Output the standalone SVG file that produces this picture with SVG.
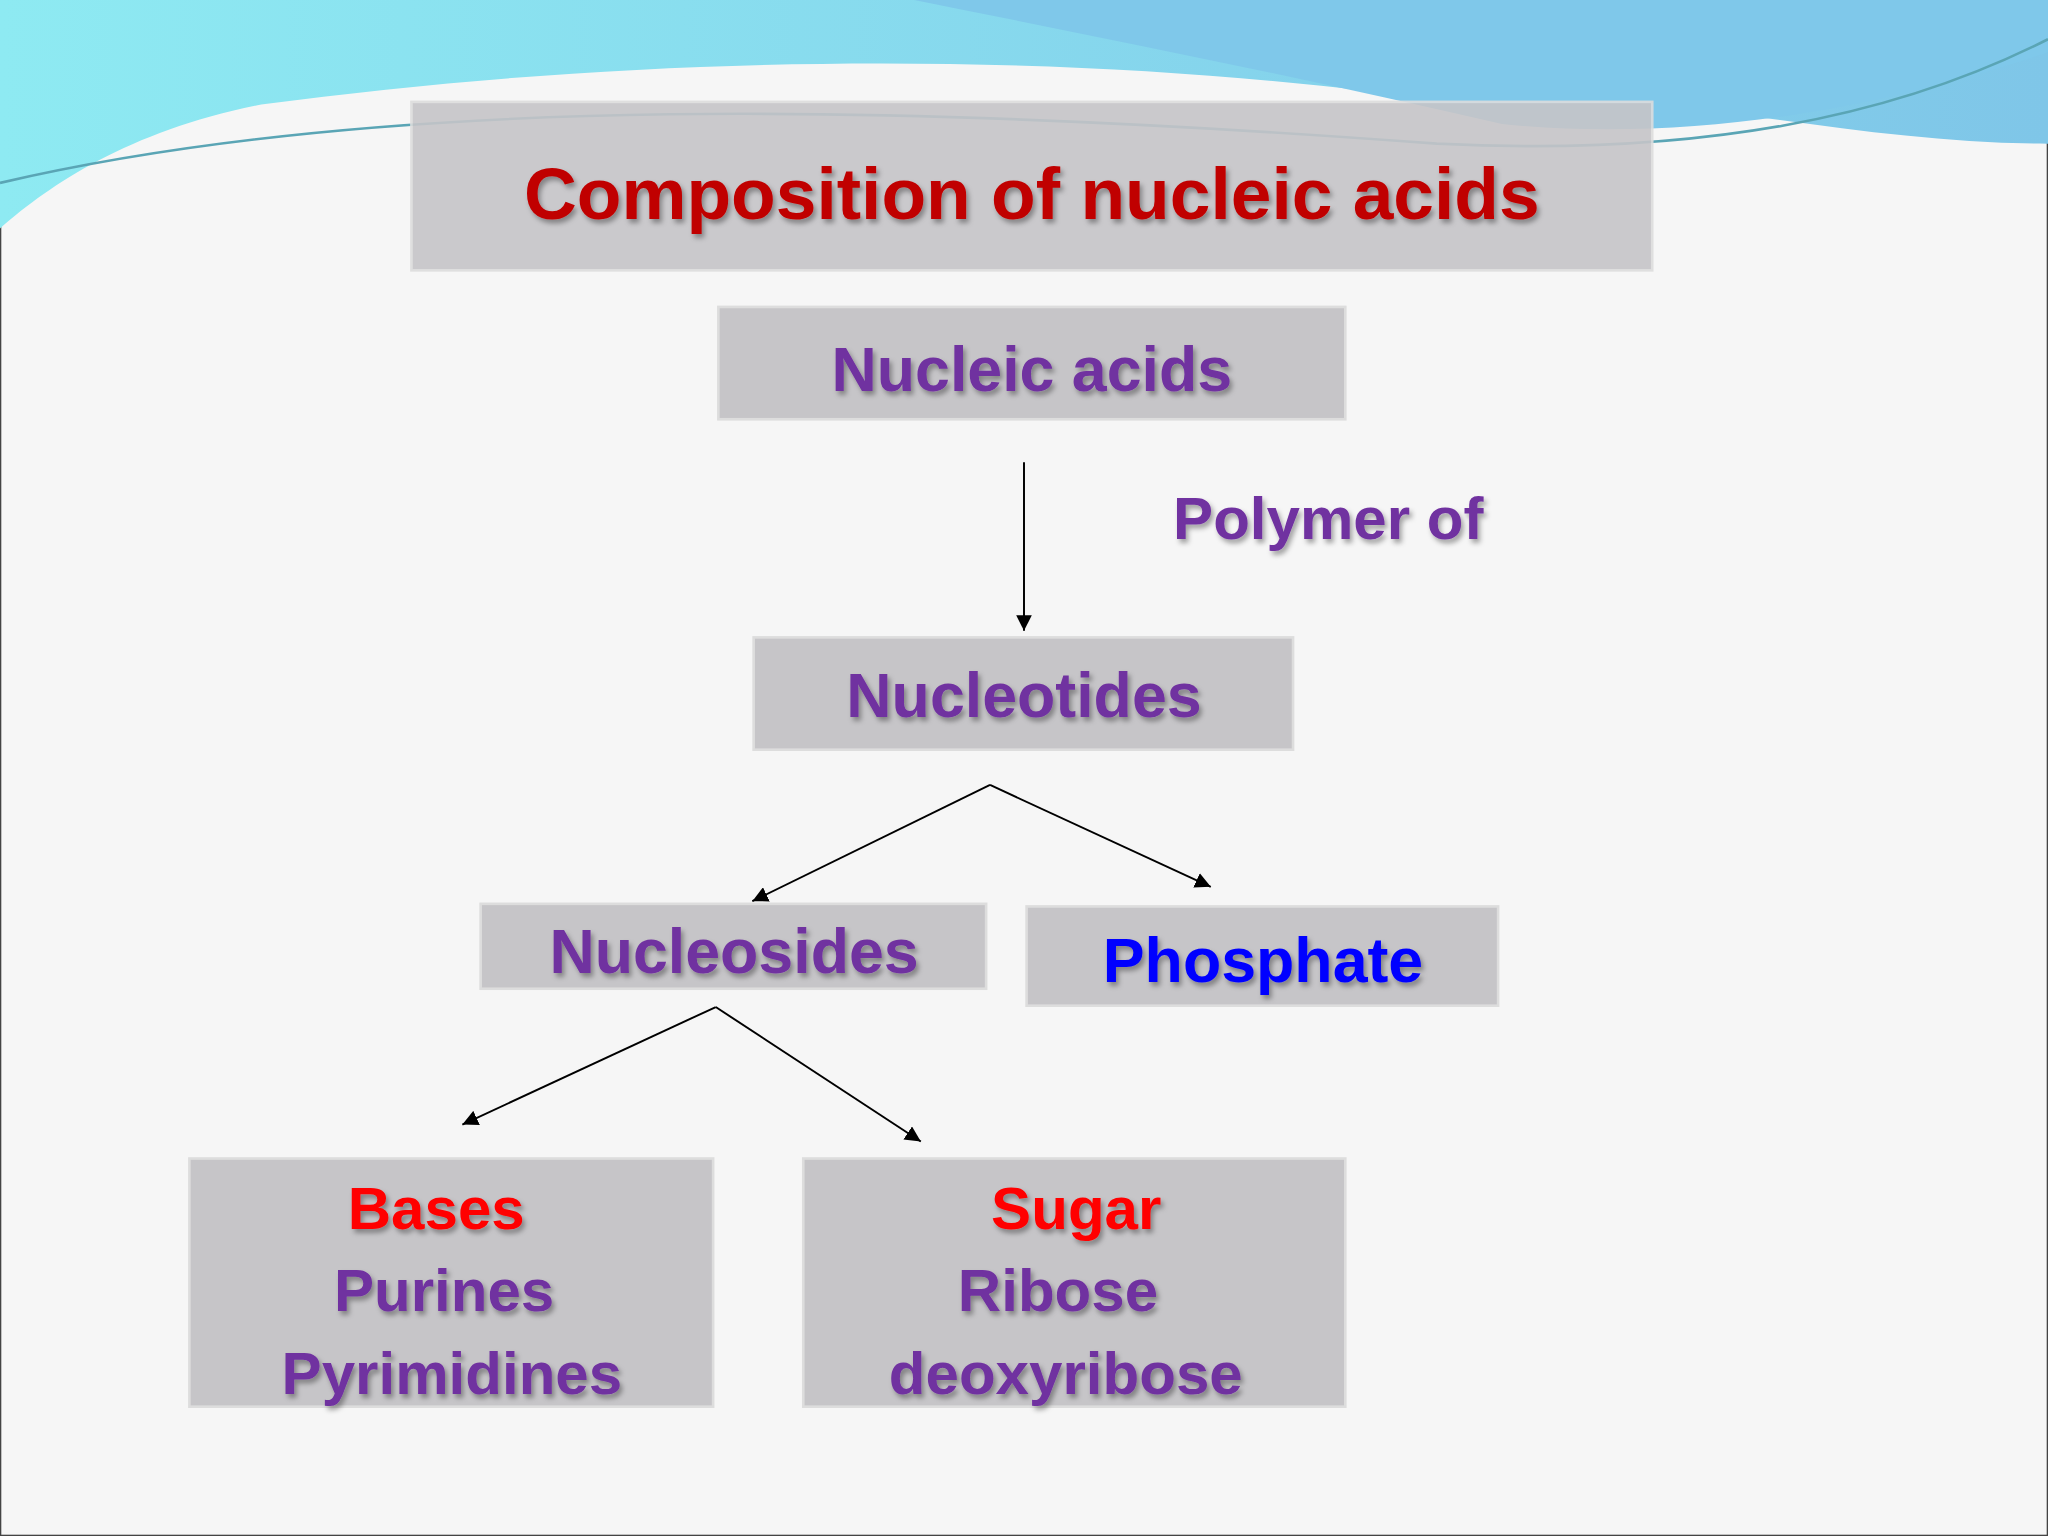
<svg xmlns="http://www.w3.org/2000/svg" width="2048" height="1536" viewBox="0 0 2048 1536">
<defs>
<linearGradient id="w1" x1="0" y1="0" x2="1" y2="0"><stop offset="0" stop-color="#8EEAF2"/><stop offset="1" stop-color="#7FC6E8"/></linearGradient>
<filter id="sh" x="-10%" y="-10%" width="130%" height="140%"><feDropShadow dx="2" dy="3" stdDeviation="2" flood-color="#000" flood-opacity="0.35"/></filter>
<marker id="ah" viewBox="0 0 10 10" refX="10" refY="5" markerWidth="8" markerHeight="8" orient="auto"><path d="M0,0L10,5L0,10z" fill="#000"/></marker>
<style>
.box{fill:#C6C5C8;stroke:#DDDDDD;stroke-width:2}
.t{font-family:"Liberation Sans",Arial,sans-serif;font-weight:bold;text-anchor:middle;filter:url(#sh)}
.p{fill:#7030A0}
.c{stroke:#000;stroke-width:1.5;fill:none;marker-end:url(#ah)}
</style>
</defs>
<g transform="scale(1.30612)">
<rect width="1568" height="1176" fill="#F6F6F6" stroke="#444" stroke-width="2"/>
<g id="bg">
<path d="M0,0H1568V110C1400,110 1250,60 1050,70C800,40 500,40 200,80C100,100 40,140 0,175Z" fill="url(#w1)"/>
<path d="M700,0C850,30 1000,60 1150,95C1300,110 1450,80 1568,40V0Z" fill="#7FC8EA"/>
<path d="M0,140C300,70 700,80 1100,110C1300,120 1450,90 1568,30" stroke="#5AA5B5" stroke-width="2" fill="none"/>
<path d="M0,0H1568V0" fill="none"/>
</g>
<g id="title"><rect class="box" x="315" y="78" width="950" height="129" opacity="0.9"/><text class="t" x="790" y="168" font-size="56" fill="#C00000">Composition of nucleic acids</text></g>
<g id="nucleic"><rect class="box" x="550" y="235" width="480" height="86"/><text class="t p" x="790" y="299" font-size="48">Nucleic acids</text></g>
<g id="polymer"><text class="t p" x="1017" y="413" font-size="46">Polymer of</text></g>
<g id="nucleotides"><rect class="box" x="577" y="488" width="413" height="86"/><text class="t p" x="784" y="549" font-size="48">Nucleotides</text></g>
<g id="nucleosides"><rect class="box" x="368" y="692" width="387" height="65"/><text class="t p" x="562" y="745" font-size="48">Nucleosides</text></g>
<g id="phosphate"><rect class="box" x="786" y="694" width="361" height="76"/><text class="t" x="967" y="752" font-size="48" fill="#0000FF">Phosphate</text></g>
<g id="bases"><rect class="box" x="145" y="887" width="401" height="190"/>
<text class="t" x="334" y="941" font-size="46" fill="#FF0000">Bases</text>
<text class="t p" x="340" y="1004" font-size="46">Purines</text>
<text class="t p" x="346" y="1067" font-size="46">Pyrimidines</text></g>
<g id="sugar"><rect class="box" x="615" y="887" width="415" height="190"/>
<text class="t" x="824" y="941" font-size="46" fill="#FF0000">Sugar</text>
<text class="t p" x="810" y="1004" font-size="46">Ribose</text>
<text class="t p" x="816" y="1067" font-size="46">deoxyribose</text></g>
<g id="connectors">
<line class="c" x1="784" y1="354" x2="784" y2="483"/>
<polyline class="c" points="758,601 576,690"/>
<polyline class="c" points="758,601 927,679"/>
<polyline class="c" points="548,771 354,861"/>
<polyline class="c" points="548,771 705,874"/>
</g>
</g>
</svg>
